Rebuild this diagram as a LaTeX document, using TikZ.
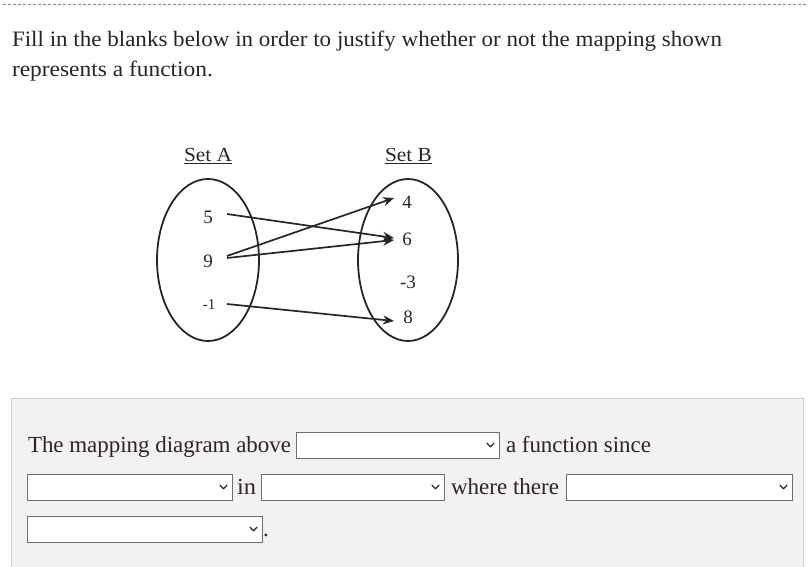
\documentclass[tikz,border=0pt]{standalone}
\usepackage{fontspec}
\setmainfont{Liberation Serif}
\usetikzlibrary{arrows.meta}
\definecolor{ink}{HTML}{2A2522}
\definecolor{panelbg}{HTML}{F4F2F1}
\definecolor{panelbd}{HTML}{CDCDCD}
\definecolor{ddbd}{HTML}{6E6E6E}
\definecolor{dashc}{HTML}{8A8A8A}
\newcommand{\fitw}[2]{\resizebox{#1}{\height}{#2}}
\tikzset{
  txt/.style={anchor=base west, inner sep=0pt, outer sep=0pt, text=ink},
  num/.style={anchor=base, inner sep=0pt, outer sep=0pt, text=ink, font=\fontsize{19}{19}\selectfont},
  setell/.style={draw=ink, line width=1.8pt},
  maparrow/.style={draw=ink, line width=1.7pt, -{Stealth[length=11pt,width=9pt]}},
  dd/.style={draw=ddbd, fill=white, line width=1pt, inner sep=0pt, outer sep=0pt, anchor=north west, minimum height=26pt},
  chev/.style={draw=ink, line width=1.3pt, line cap=round, line join=round}
}
\newcommand{\chevron}[1]{\draw[chev] ([xshift=-12pt,yshift=1.8pt]#1.east) -- ++(3.5,3.6) -- ++(3.5,-3.6);}
\begin{document}
\begin{tikzpicture}[x=1pt,y=-1pt]
\useasboundingbox (0,0) rectangle (808,567);
\fill[white] (0,0) rectangle (808,567);
% top dashed rule
\draw[dashc, line width=1pt, dash pattern=on 3pt off 2pt] (3,5) -- (808,5);
% title
\node[txt, font=\fontsize{22}{22}\selectfont] (t1) at (12,47) {\fitw{710pt}{Fill in the blanks below in order to justify whether or not the mapping shown}};
\node[txt, font=\fontsize{22}{22}\selectfont] (t2) at (12,77) {\fitw{201pt}{represents a function.}};
% set labels
\node[txt, font=\fontsize{20}{20}\selectfont] (sa) at (184,161) {\fitw{48pt}{Set A}};
\node[txt, font=\fontsize{20}{20}\selectfont] (sb) at (385,161) {\fitw{47pt}{Set B}};
\draw[ink, line width=1.1pt] ([yshift=-2.8pt]sa.base west) -- ([yshift=-2.8pt]sa.base east);
\draw[ink, line width=1.1pt] ([yshift=-2.8pt]sb.base west) -- ([yshift=-2.8pt]sb.base east);
% ellipses
\draw[setell] (208,260) ellipse [x radius=51, y radius=81];
\draw[setell] (408,260) ellipse [x radius=50, y radius=81];
% numbers
\node[num] (n5) at (208,223) {5};
\node[num] (n9) at (208,267) {9};
\node[num, font=\fontsize{15}{15}\selectfont] (nm1) at (209,309) {-1};
\node[num] (n4) at (407,208) {4};
\node[num] (n6) at (407,245) {6};
\node[num] (nm3) at (408,288) {-3};
\node[num] (n8) at (408,323) {8};
% arrow endpoints
\coordinate (s5) at (227,214);
\coordinate (s9a) at (227,256);
\coordinate (s9b) at (227,258);
\coordinate (sm1) at (227,304);
\coordinate (e4) at (394,198);
\coordinate (e6a) at (394,238);
\coordinate (e6b) at (394,240);
\coordinate (e8) at (394,321);
\draw[maparrow] (s5) -- (e6a);
\draw[maparrow] (s9a) -- (e4);
\draw[maparrow] (s9b) -- (e6b);
\draw[maparrow] (sm1) -- (e8);
% panel
\fill[panelbg] (11,398) rectangle (803,570);
\draw[panelbd, line width=1pt] (11,570) -- (11,398) -- (803,398) -- (803,570);
% row 1
\node[txt, font=\fontsize{23}{23}\selectfont] (p1) at (28,452) {\fitw{263pt}{The mapping diagram above}};
\node[dd, minimum width=203pt] (d1) at (296,432) {};
\chevron{d1}
\node[txt, font=\fontsize{23}{23}\selectfont] (p2) at (506,452) {\fitw{145pt}{a function since}};
% row 2
\node[dd, minimum width=205pt] (d2) at (27,474) {};
\chevron{d2}
\node[txt, font=\fontsize{23}{23}\selectfont] (p3) at (237,494) {\fitw{19pt}{in}};
\node[dd, minimum width=183pt] (d3) at (261,474) {};
\chevron{d3}
\node[txt, font=\fontsize{23}{23}\selectfont] (p4) at (451,494) {\fitw{108pt}{where there}};
\node[dd, minimum width=226pt] (d4) at (566,474) {};
\chevron{d4}
% row 3
\node[dd, minimum width=235pt] (d5) at (27,516) {};
\chevron{d5}
\node[txt, font=\fontsize{23}{23}\selectfont] (p5) at (263,536) {.};
\end{tikzpicture}
\end{document}
